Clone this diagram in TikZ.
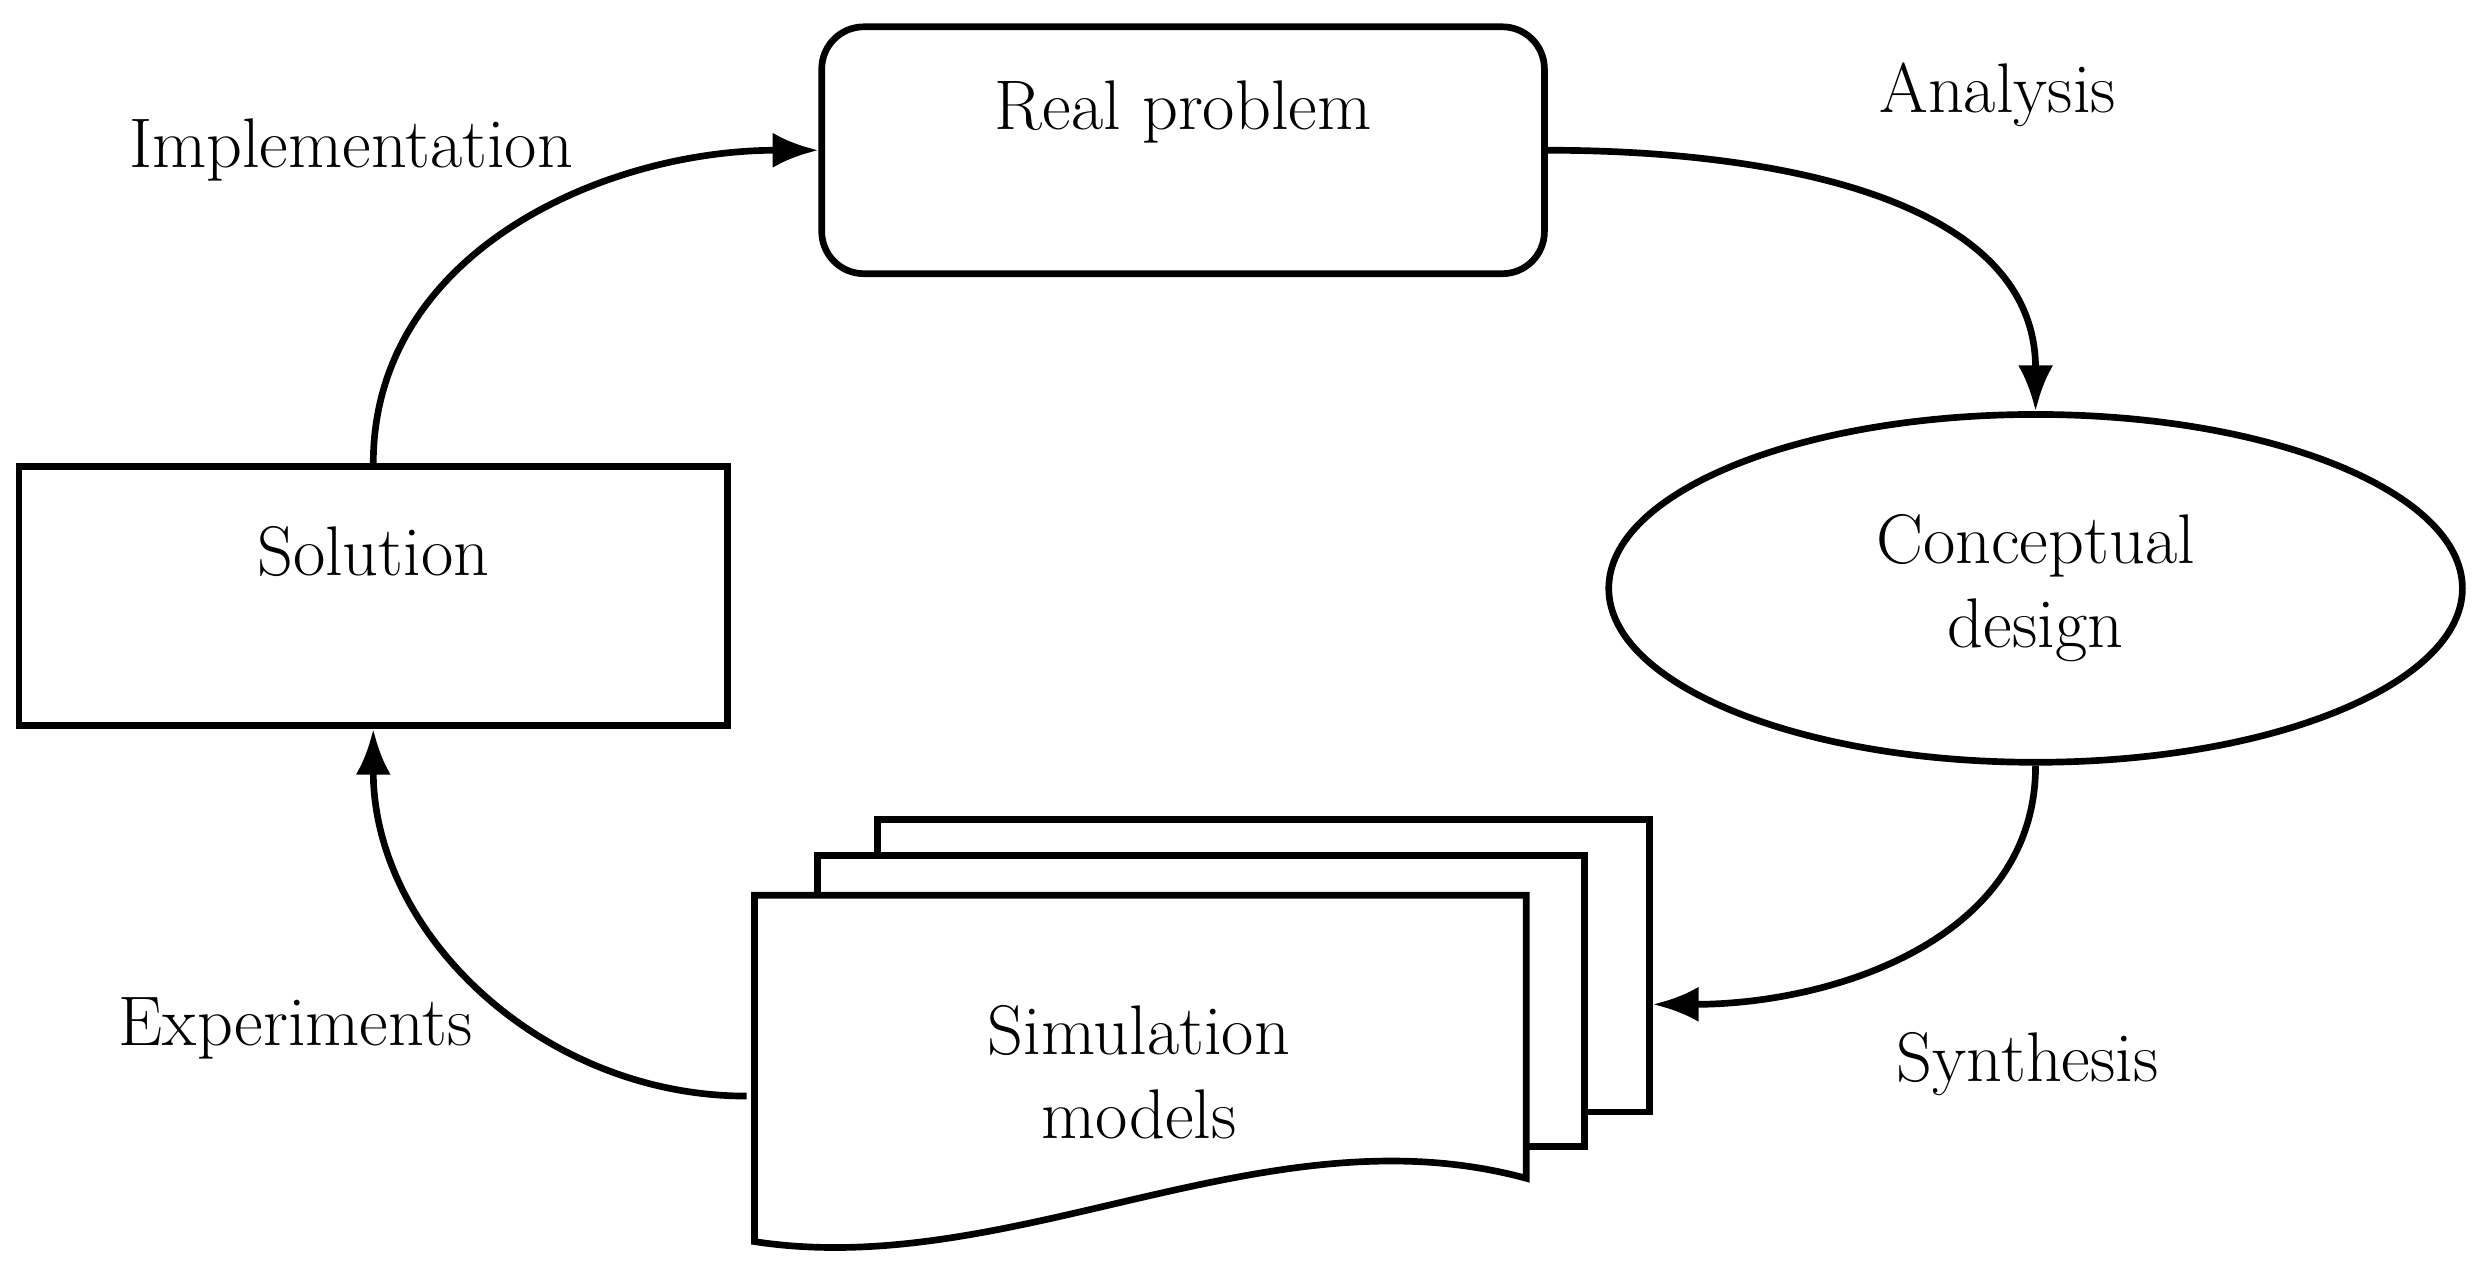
\documentclass[tikz,border=0pt]{standalone}
\usetikzlibrary{shapes.geometric}
\usetikzlibrary{arrows.meta}

\begin{document}
\begin{tikzpicture}
  [x=0.01582cm, y=-0.01582cm,
   line width=1.9pt,
   every node/.style = {font=\fontsize{20}{24}\selectfont, align=center},
   box/.style = {draw, inner sep=0pt},
   doc/.style = {draw, fill=white, line join=miter},
   flow/.style = {-{Latex[length=13pt, width=10pt]}}]
  \useasboundingbox (0,0) rectangle (1568,807);

  % nodes
  \node (real) [box, rounded corners=12pt, minimum width=7.23cm, minimum height=2.47cm,
    text depth=0.9cm] at (748,95) {Real problem};
  \node (sol) [box, minimum width=7.09cm, minimum height=2.59cm,
    text depth=0.9cm] at (236,377) {Solution};
  \node (concept) [box, ellipse, minimum width=8.54cm, minimum height=3.48cm] at (1287,372) {Conceptual\\design};

  % stack of documents
  \draw [doc] (555,518) rectangle (1043,703);
  \draw [doc] (517,541) rectangle (1002,725);
  \draw [doc] (477,566) -- (965,566) -- (965,745)
    .. controls (800,700) and (640,810) .. (477,785) -- cycle;
  \node (sim) at (720,678) {Simulation\\models};
  \coordinate (simin) at (1045,635);
  \coordinate (simout) at (472,693);

  % connectors
  \draw [flow] (real.east) to [out=0, in=90] (concept.north);
  \draw [flow] (concept.south) to [out=-90, in=0] (simin);
  \draw [flow] (simout) to [out=180, in=-90] (sol.south);
  \draw [flow] (sol.north) to [out=90, in=180] (real.west);

  % labels
  \node (limpl) at (222,95) {Implementation};
  \node (lanal) at (1263,60) {Analysis};
  \node (lsynth) at (1282,673) {Synthesis};
  \node (lexp) at (187,650) {Experiments};
\end{tikzpicture}
\end{document}
